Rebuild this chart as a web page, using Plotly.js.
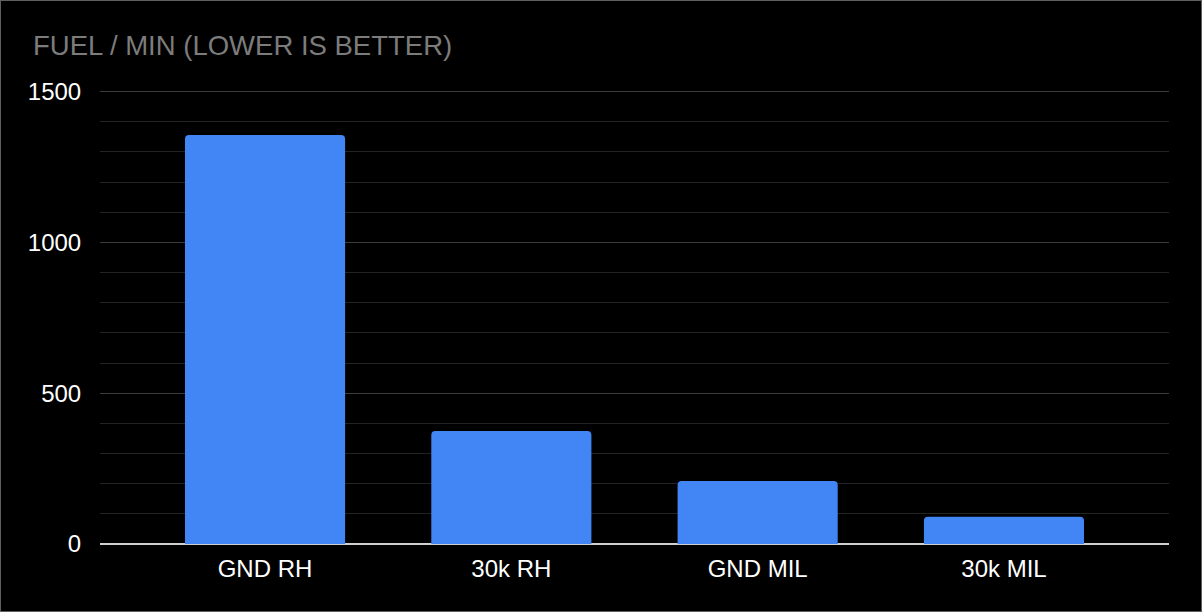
<!DOCTYPE html>
<html>
<head>
<meta charset="utf-8">
<script src="https://cdn.plot.ly/plotly-3.0.1.min.js"></script>
<style>
html,body{margin:0;padding:0;background:#000;}
#wrap{position:relative;width:1202px;height:612px;}
#chart{width:1202px;height:612px;}
#frame{position:absolute;left:0;top:0;width:1200px;height:610px;border:1px solid #5f5f5f;pointer-events:none;}
</style>
</head>
<body>
<div id="wrap"><div id="chart"></div><div id="frame"></div></div>
<script>
const categories = ["GND RH", "30k RH", "GND MIL", "30k MIL"];
const fuelPerMin = [1356, 375, 209, 90];
const titleText = "FUEL / MIN (LOWER IS BETTER)";

const trace = {
  type: "bar",
  x: categories,
  y: fuelPerMin,
  marker: {color: "#4285F4", cornerradius: 4},
  width: 0.65,
  hoverinfo: "x+y"
};

const layout = {
  width: 1202,
  height: 612,
  paper_bgcolor: "#000000",
  plot_bgcolor: "#000000",
  margin: {l: 100, r: 33, t: 90, b: 68},
  showlegend: false,
  font: {family: "Liberation Sans, Arial, sans-serif", color: "#ffffff"},
  title: {
    text: titleText,
    font: {size: 27.5, color: "#7c7c7c", family: "Liberation Sans, Arial, sans-serif"},
    x: 33/1202, xref: "container", xanchor: "left",
    y: 1 - 45/612, yref: "container", yanchor: "middle"
  },
  xaxis: {
    type: "category",
    range: [-0.67, 3.67],
    showgrid: false,
    showline: false,
    zeroline: false,
    ticks: "outside",
    ticklen: 3,
    tickcolor: "rgba(0,0,0,0)",
    tickfont: {size: 24, color: "#ffffff"},
    fixedrange: true
  },
  yaxis: {
    range: [0, 1505],
    dtick: 500,
    tick0: 0,
    showgrid: true,
    gridcolor: "#3c3c3c",
    gridwidth: 1,
    zeroline: true,
    zerolinecolor: "#d0d0d0",
    zerolinewidth: 2,
    showline: false,
    ticks: "outside",
    ticklen: 13,
    tickcolor: "rgba(0,0,0,0)",
    tickfont: {size: 24, color: "#ffffff"},
    minor: {dtick: 100, showgrid: true, gridcolor: "#232323", gridwidth: 1},
    fixedrange: true
  }
};

Plotly.newPlot("chart", [trace], layout, {displayModeBar: false, staticPlot: true});
</script>
</body>
</html>
